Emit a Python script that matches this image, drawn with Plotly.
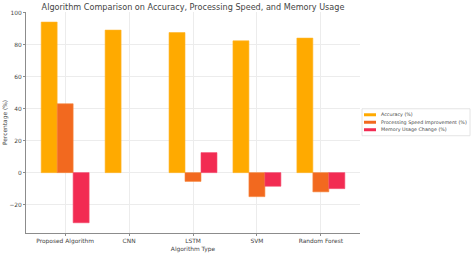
import plotly.graph_objects as go

categories = ["Proposed Algorithm", "CNN", "LSTM", "SVM", "Random Forest"]
accuracy = [94, 89, 87.5, 82.3, 84]
speed = [43, None, -5.5, -15, -12]
memory = [-31.3, None, 12.5, -8.5, -10]

series = [
    ("Accuracy (%)", accuracy, "#FFAA00", "#FFB52A"),
    ("Processing Speed Improvement (%)", speed, "#F2691F", "#F7883C"),
    ("Memory Usage Change (%)", memory, "#F22B52", "#F5476A"),
]

W, H = 474, 253
L, R, T, B = 26, 114, 12, 19.5
pw, ph = W - L - R, H - T - B

def px_to_paper(x, y):
    return (x - L) / pw, (H - B - y) / ph

fig = go.Figure()
for name, vals, col, edge in series:
    fig.add_trace(go.Bar(
        x=list(range(len(categories))), y=vals, name=name,
        marker=dict(color=col, line=dict(color=edge, width=0.6)),
    ))

# custom compact legend (box + swatches + labels)
x0, y0 = px_to_paper(362, 109)
x1, y1 = px_to_paper(470, 136)
fig.add_shape(type="rect", xref="paper", yref="paper", x0=x0, y0=y0, x1=x1, y1=y1,
              line=dict(color="#dddddd", width=0.8), fillcolor="white", layer="above")
for i, (name, vals, col, edge) in enumerate(series):
    yc = 115 + i * 7.5
    sx0, sy0 = px_to_paper(364, yc - 1.5)
    sx1, sy1 = px_to_paper(376, yc + 1.5)
    fig.add_shape(type="rect", xref="paper", yref="paper", x0=sx0, y0=sy0, x1=sx1, y1=sy1,
                  line=dict(width=0), fillcolor=col, layer="above")
    tx, ty = px_to_paper(379, yc)
    fig.add_annotation(x=tx, y=ty, xref="paper", yref="paper", text=name,
                       showarrow=False, xanchor="left", yanchor="middle",
                       font=dict(size=4.8, color="#444444"))

fig.update_layout(
    width=W, height=H,
    margin=dict(l=L, r=R, t=T, b=B),
    paper_bgcolor="white", plot_bgcolor="white",
    barmode="group", bargap=0.25, bargroupgap=0,
    font=dict(family="DejaVu Sans", color="#444444"),
    title=dict(text="Algorithm Comparison on Accuracy, Processing Speed, and Memory Usage",
               x=193 / W, xanchor="center", y=1 - 7 / H, yanchor="middle",
               font=dict(size=8.1, color="#444444")),
    showlegend=False,
)
fig.update_xaxes(
    range=[-0.6125, 4.6125], tickmode="array", automargin=False,
    tickvals=list(range(len(categories))), ticktext=categories,
    showgrid=True, gridcolor="#ececec", gridwidth=0.6,
    showline=True, linecolor="#8c8c8c", linewidth=1,
    ticks="outside", ticklen=2, tickcolor="#8c8c8c",
    tickfont=dict(size=5.9, color="#444444"),
    title=dict(text="Algorithm Type", font=dict(size=5.9, color="#444444"), standoff=2),
    zeroline=False,
)
fig.update_yaxes(
    range=[-37.7, 100.3], tickvals=[-20, 0, 20, 40, 60, 80, 100], automargin=False,
    showgrid=True, gridcolor="#ececec", gridwidth=0.6,
    showline=True, linecolor="#8c8c8c", linewidth=1,
    ticks="outside", ticklen=2, tickcolor="#8c8c8c",
    tickfont=dict(size=5.9, color="#444444"),
    title=dict(text="Percentage (%)", font=dict(size=5.9, color="#444444"), standoff=1),
    zeroline=False,
)

fig.write_html("out.html")
